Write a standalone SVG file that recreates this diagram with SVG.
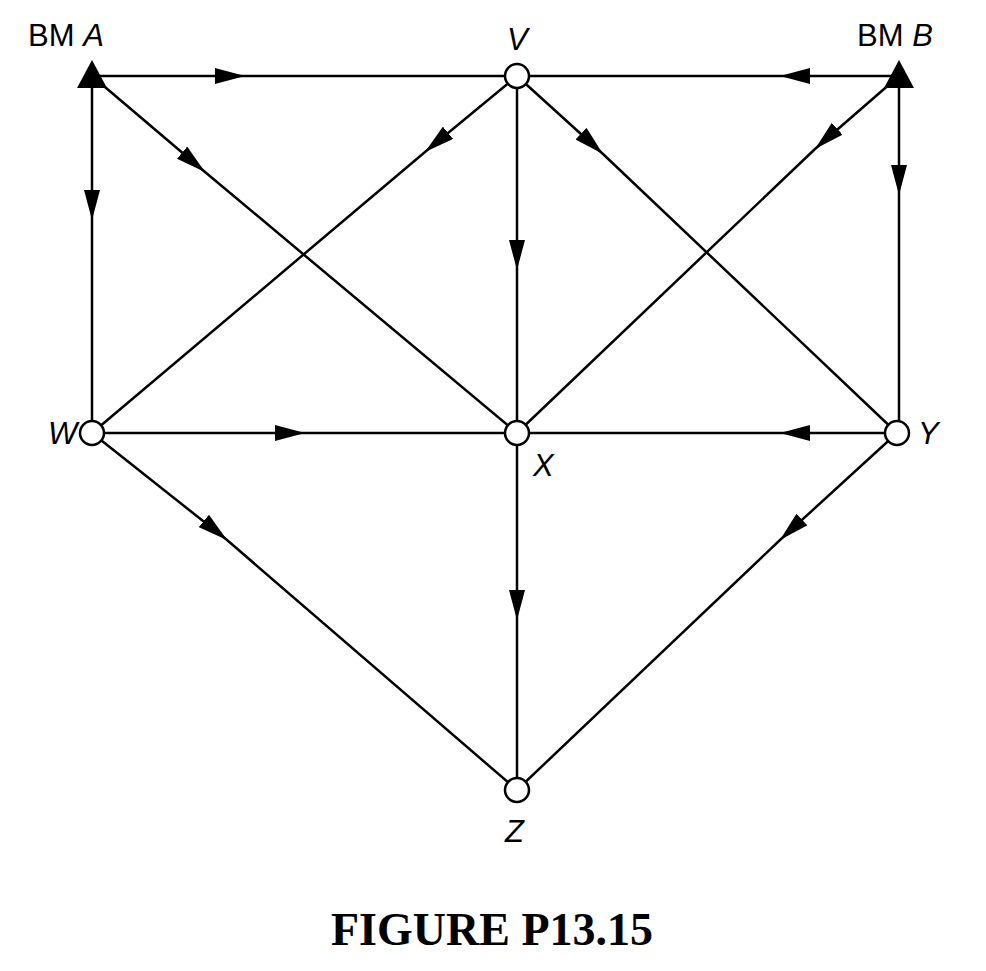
<svg xmlns="http://www.w3.org/2000/svg" width="986" height="971" viewBox="0 0 986 971">
<style>
.e{fill:none;stroke:#000;stroke-width:2.5;marker-mid:url(#ah)}
.n{fill:#fff;stroke:#000;stroke-width:2.5}
.t{font-family:"Liberation Sans",Arial,sans-serif;font-size:31px;fill:#000}
.i{font-style:italic}
</style>
<defs>
<marker id="ah" viewBox="0 0 30 16" refX="30" refY="8" markerWidth="30" markerHeight="16" markerUnits="userSpaceOnUse" orient="auto">
<path d="M0,0 L30,8 L0,16 Z" fill="#000"/>
</marker>
</defs>
<rect width="986" height="971" fill="#fff"/>
<g id="connectors">
<path class="e" d="M92,76 L245,76 L517,76"/>
<path class="e" d="M899,76 L780,76 L517,76"/>
<path class="e" d="M92,76 L92,220 L92,433"/>
<path class="e" d="M899,76 L899,195 L899,433"/>
<path class="e" d="M92,76 L205,172 L517,433"/>
<path class="e" d="M517,76 L425,152 L92,433"/>
<path class="e" d="M517,76 L517,270 L517,433"/>
<path class="e" d="M517,76 L603,154 L897,433"/>
<path class="e" d="M899,76 L815,149 L517,433"/>
<path class="e" d="M92,433 L305,433 L517,433"/>
<path class="e" d="M897,433 L780,433 L517,433"/>
<path class="e" d="M92,433 L227,540 L517,790"/>
<path class="e" d="M517,433 L517,620 L517,790"/>
<path class="e" d="M897,433 L780,540 L517,790"/>
</g>
<g id="BMA"><polygon points="92,60 77,88 107,88" fill="#000"/><text class="t" x="28" y="46">BM <tspan class="i">A</tspan></text></g>
<g id="BMB"><polygon points="899,60 884,88 914,88" fill="#000"/><text class="t" x="857" y="46">BM <tspan class="i">B</tspan></text></g>
<g id="V"><circle class="n" cx="517" cy="76" r="12"/><text class="t i" x="507" y="50">V</text></g>
<g id="W"><circle class="n" cx="92" cy="433" r="12"/><text class="t i" x="48" y="444">W</text></g>
<g id="X"><circle class="n" cx="517" cy="433" r="12"/><text class="t i" x="533" y="476">X</text></g>
<g id="Y"><circle class="n" cx="897" cy="433" r="12"/><text class="t i" x="918" y="444">Y</text></g>
<g id="Z"><circle class="n" cx="517" cy="790" r="12"/><text class="t i" x="505" y="842">Z</text></g>
<text x="492" y="945" text-anchor="middle" font-family="Liberation Serif,serif" font-weight="bold" font-size="46">FIGURE P13.15</text>
</svg>
